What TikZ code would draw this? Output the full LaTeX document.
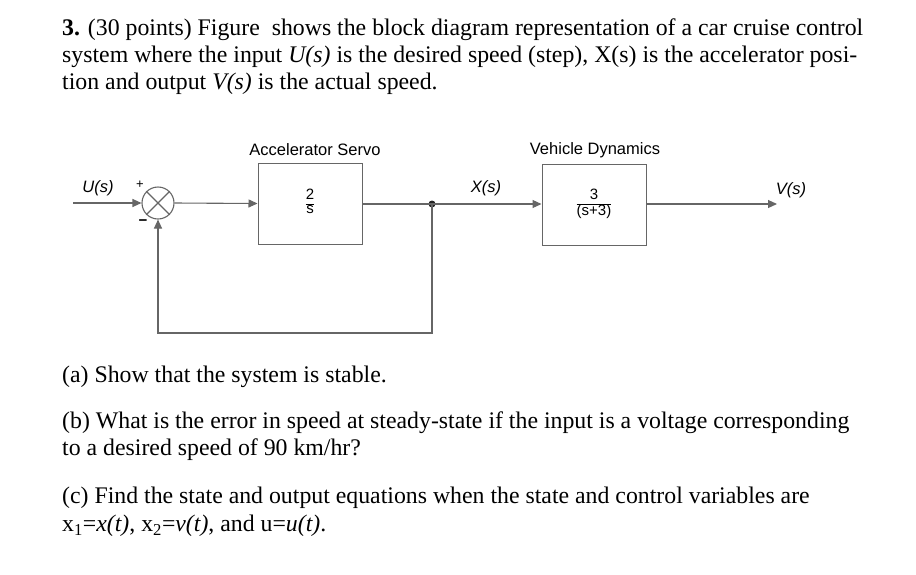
\documentclass[tikz,border=0pt]{standalone}
\usepackage{fontspec}
\setmainfont{Liberation Serif}
\newfontfamily\dsans{Liberation Sans}
\usetikzlibrary{arrows.meta}
\newcommand{\myfrac}[2]{\renewcommand{\arraystretch}{0.9}\begin{tabular}{@{}c@{}}#1\\\hline #2\end{tabular}}
\begin{document}
\begin{tikzpicture}[x=1pt,y=-1pt,
  txt/.style={anchor=west,inner sep=0pt,font=\fontsize{23.8}{28}\selectfont},
  lab/.style={inner sep=0pt,font=\dsans\fontsize{16.5}{19}\selectfont},
  ilab/.style={lab,font=\dsans\itshape\fontsize{16.5}{19}\selectfont},
  blk/.style={draw=gray!80!black,line width=1pt,minimum width=104pt,minimum height=81pt,inner sep=0pt,font=\dsans\fontsize{15}{16}\selectfont},
  ln/.style={draw=gray!80!black,line width=1.1pt},
  ar/.style={ln,-{Triangle[length=9pt,width=8pt]}}]
\useasboundingbox (0,0) rectangle (916,574);
\fill[white] (0,0) rectangle (916,574);
\node[txt] (l1) at (62,30) {\textbf{3.} (30 points) Figure\ \ shows the block diagram representation of a car cruise control};
\node[txt] (l2) at (62,57) {system where the input \textit{U(s)} is the desired speed (step), X(s) is the accelerator posi-};
\node[txt] (l3) at (62,84) {tion and output \textit{V(s)} is the actual speed.};
\node[txt] (qa) at (62,377) {(a) Show that the system is stable.};
\node[txt] (qb1) at (62,423) {(b) What is the error in speed at steady-state if the input is a voltage corresponding};
\node[txt] (qb2) at (62,450) {to a desired speed of 90 km/hr?};
\node[txt] (qc1) at (62,498) {(c) Find the state and output equations when the state and control variables are};
\node[txt] (qc2) at (62,526) {x\textsubscript{1}=\textit{x(t)}, x\textsubscript{2}=\textit{v(t)}, and u=\textit{u(t)}.};
% diagram
\node[blk] (g1) at (310,203.5) {\myfrac{2}{s}};
\node[blk] (g2) at (594,204.5) {\myfrac{3}{(s+3)}};
\node[lab] (t1) at (315,150) {Accelerator Servo};
\node[lab] (t2) at (595,150) {Vehicle Dynamics};
\node[circle,draw=gray!80!black,line width=1.1pt,minimum size=32pt,inner sep=0pt] (sum) at (158,203) {};
\draw[ln] (sum.north west) -- (sum.south east) (sum.north east) -- (sum.south west);
\coordinate (in) at (73,203);
\node[ilab] (u) at (98,188) {U(s)};
\node[lab,font=\dsans\fontsize{13}{14}\selectfont] (p) at (140,185) {+};
\node[lab,font=\dsans\bfseries\fontsize{15}{15}\selectfont] (m) at (143,223) {\textminus};
\draw[ar] (in) -- (sum.west);
\draw[ar] (sum.east) -- (g1.west);
\coordinate (j) at (432,204);
\fill[gray!30!black] (j) circle (3.5pt);
\draw[ln] (g1.east|-j) -- (j);
\draw[ar] (j) -- (g2.west|-j);
\node[ilab] (x) at (486,188) {X(s)};
\coordinate (out) at (777,204);
\draw[ar] (g2.east|-out) -- (out);
\node[ilab] (v) at (791,190) {V(s)};
\coordinate (c1) at (432,333);
\coordinate (c2) at (158,333);
\draw[ar] (j) -- (c1) -- (c2) -- (sum.south);
\end{tikzpicture}
\end{document}
